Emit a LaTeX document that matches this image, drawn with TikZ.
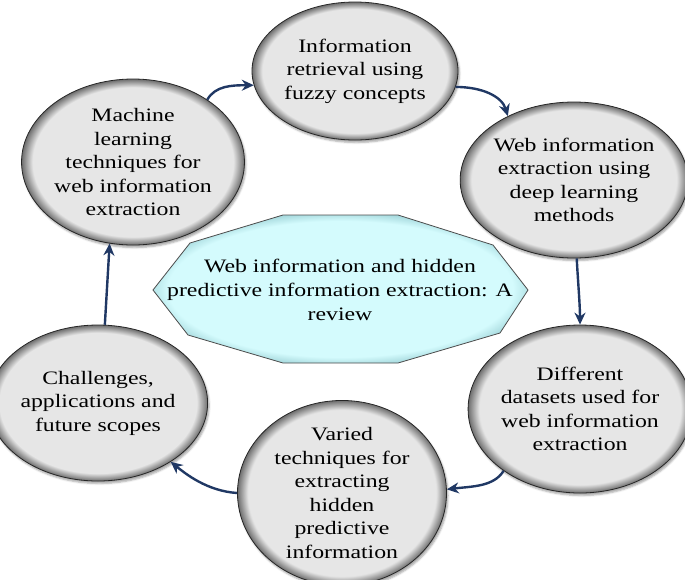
\documentclass[tikz,border=0pt]{standalone}
\usepackage{fontspec}
\setmainfont{Liberation Serif}[FakeStretch=1.25]
\usetikzlibrary{shapes.geometric,arrows.meta,shadows.blur}
\definecolor{ellin}{HTML}{E6E6E6}
\definecolor{ellrim}{HTML}{6E6E6E}
\definecolor{octin}{HTML}{D4FBFD}
\definecolor{octrim}{HTML}{96CDD2}
\definecolor{arrowblue}{HTML}{203864}
\pgfdeclareradialshading{ellshade}{\pgfpoint{0bp}{0bp}}{color(0bp)=(ellin); color(22.5bp)=(ellin); color(25bp)=(ellrim); color(50bp)=(ellrim)}
\pgfdeclareradialshading{octshade}{\pgfpoint{0bp}{0bp}}{color(0bp)=(octin); color(23bp)=(octin); color(27bp)=(octrim); color(50bp)=(octrim)}
\begin{document}
\begin{tikzpicture}[x=1pt,y=-1pt,
  topic/.style={ellipse,draw=black!85,line width=0.8pt,shading=ellshade,
    blur shadow={shadow xshift=1.5pt,shadow yshift=-2.5pt,shadow opacity=35},
    inner sep=0pt,align=center,font=\fontsize{19}{23.5}\selectfont},
  link/.style={arrowblue,line width=2.4pt,-{Stealth[length=12pt,width=11pt]}}]
  \useasboundingbox (0,0) rectangle (685,579);
  % Central review polygon
  \draw[black!70,line width=0.8pt,shading=octshade]
    (153,290) -- (190,243) -- (283,215) -- (398,215) -- (493,245) -- (528,290)
    -- (500,333) -- (398,363) -- (283,363) -- (188,335) -- cycle;
  \node[align=center,font=\fontsize{19}{24}\selectfont] (review) at (340,290)
    {Web information and hidden\\predictive information extraction: A\\review};
  % Topics
  \node[topic,minimum width=206pt,minimum height=138pt] (fuzzy) at (355,71)
    {Information\\retrieval using\\fuzzy concepts};
  \node[topic,minimum width=208pt,minimum height=156pt] (deep) at (574,180)
    {Web information\\extraction using\\deep learning\\methods};
  \node[topic,minimum width=206pt,minimum height=168pt] (data) at (580,409)
    {Different\\datasets used for\\web information\\extraction};
  \node[topic,minimum width=209pt,minimum height=150pt] (hidden) at (342,493)
    {Varied\\techniques for\\extracting\\hidden\\predictive\\information};
  \node[topic,minimum width=194pt,minimum height=156pt] (future) at (98,403)
    {Challenges,\\applications and\\future scopes};
  \node[topic,minimum width=210pt,minimum height=166pt] (machine) at (133,162)
    {Machine\\learning\\techniques for\\web information\\extraction};
  % Cycle arrows
  \draw[link] (machine.40) .. controls +(8,-14) and +(-22,0) .. (fuzzy.188);
  \draw[link] (fuzzy.-9) .. controls +(26,0) and +(-6,-20) .. (deep.136);
  \draw[link] (deep.-88) .. controls +(1,20) and +(0,-20) .. (data.90);
  \draw[link] (data.219) .. controls +(-10,16) and +(25,-3) .. (hidden.2);
  \draw[link] (hidden.180) .. controls +(-30,-2) and +(15,12) .. (future.-39);
  \draw[link] (future.85) -- (machine.254);
\end{tikzpicture}
\end{document}
